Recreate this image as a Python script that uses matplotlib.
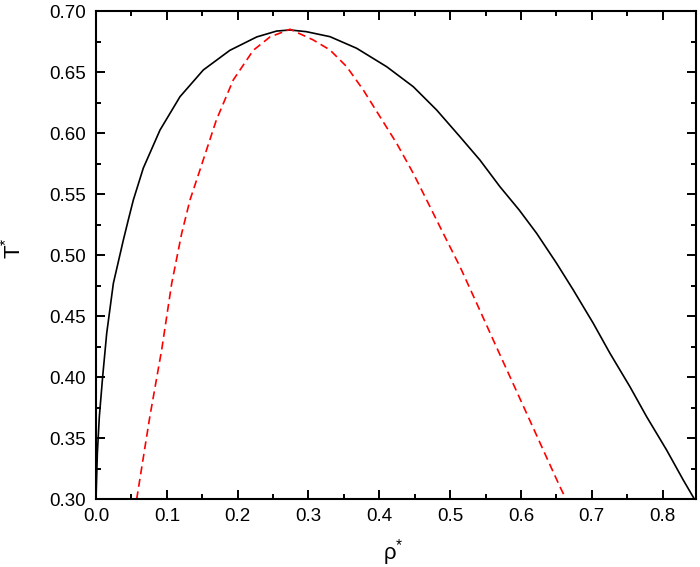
import matplotlib
matplotlib.use("Agg")
import matplotlib.pyplot as plt
from matplotlib.ticker import MultipleLocator, FormatStrFormatter

# Binodal (coexistence) curve
binodal_rho = [0.0, 0.0019, 0.0047, 0.0094, 0.0151, 0.0245, 0.0386, 0.0456, 0.0527, 0.0668,
               0.0904, 0.1186, 0.1515, 0.189, 0.227, 0.255, 0.274, 0.297, 0.3304, 0.368,
               0.4104, 0.448, 0.481, 0.5139, 0.5421, 0.5704, 0.5976, 0.6222, 0.6504, 0.6739,
               0.7021, 0.7257, 0.7539, 0.7775, 0.8057, 0.8292, 0.8443, 0.8465]
binodal_T = [0.300, 0.3377, 0.3677, 0.4005, 0.436, 0.477, 0.5125, 0.529, 0.5453, 0.5715,
             0.6027, 0.630, 0.6519, 0.668, 0.679, 0.6838, 0.6847, 0.6833, 0.6792, 0.6697,
             0.6546, 0.6382, 0.6191, 0.5972, 0.5781, 0.5562, 0.5371, 0.518, 0.4934, 0.4716,
             0.4443, 0.4197, 0.3923, 0.3677, 0.3404, 0.3158, 0.3008, 0.2990]

# Spinodal curve
spinodal_rho = [0.0574, 0.076, 0.0927, 0.1069, 0.121, 0.1327, 0.1468, 0.170, 0.1938, 0.222,
                0.2457, 0.274, 0.3068, 0.3304, 0.354, 0.3774, 0.401, 0.4245, 0.448, 0.4716,
                0.4903, 0.5139, 0.5375, 0.5609, 0.5845, 0.608, 0.6315, 0.6551, 0.6631, 0.6645]
spinodal_T = [0.300, 0.3677, 0.4224, 0.477, 0.518, 0.5453, 0.570, 0.611, 0.6437, 0.668,
              0.679, 0.6853, 0.6765, 0.6683, 0.6546, 0.6355, 0.6136, 0.5918, 0.5672, 0.5398,
              0.518, 0.4907, 0.4607, 0.4306, 0.4005, 0.3705, 0.3404, 0.3103, 0.3008, 0.2990]

plt.rcParams['font.family'] = ['Liberation Sans', 'DejaVu Sans']
plt.rcParams['mathtext.fontset'] = 'custom'
plt.rcParams['mathtext.rm'] = 'Liberation Sans'
plt.rcParams['mathtext.it'] = 'Liberation Sans'
plt.rcParams['mathtext.bf'] = 'Liberation Sans:bold'

W, H = 700, 567
fig = plt.figure(figsize=(W / 100, H / 100), dpi=100)
ax = fig.add_axes([96 / W, 1 - 499.3 / H, (695.5 - 96) / W, (499.3 - 11.3) / H])

ax.plot(binodal_rho, binodal_T, color='black', lw=1.2, solid_joinstyle='round')
ax.plot(spinodal_rho, spinodal_T, color='red', lw=1.2, dashes=(4.8, 2.8))

ax.set_xlim(0.0, 0.8465)
ax.set_ylim(0.30, 0.70)
ax.xaxis.set_major_locator(MultipleLocator(0.1))
ax.xaxis.set_minor_locator(MultipleLocator(0.05))
ax.yaxis.set_major_locator(MultipleLocator(0.05))
ax.yaxis.set_minor_locator(MultipleLocator(0.025))
ax.xaxis.set_major_formatter(FormatStrFormatter('%.1f'))
ax.yaxis.set_major_formatter(FormatStrFormatter('%.2f'))

ax.tick_params(which='both', direction='in', top=True, right=True, width=1.4,
               labelsize=13.5)
ax.tick_params(axis='x', which='major', pad=6.1)
ax.tick_params(axis='y', which='major', pad=7.0)
ax.tick_params(which='major', length=6.7)
ax.tick_params(which='minor', length=3.6)
for s in ax.spines.values():
    s.set_linewidth(1.5)

# axis titles
fig.text(393 / W, 1 - 560 / H, 'ρ$^{*}$', fontsize=16, ha='center', va='baseline')
fig.text(13 / W, 1 - 248 / H, 'T$^{*}$', fontsize=16, rotation=90,
         ha='center', va='center')

fig.savefig('out.png', dpi=100)
